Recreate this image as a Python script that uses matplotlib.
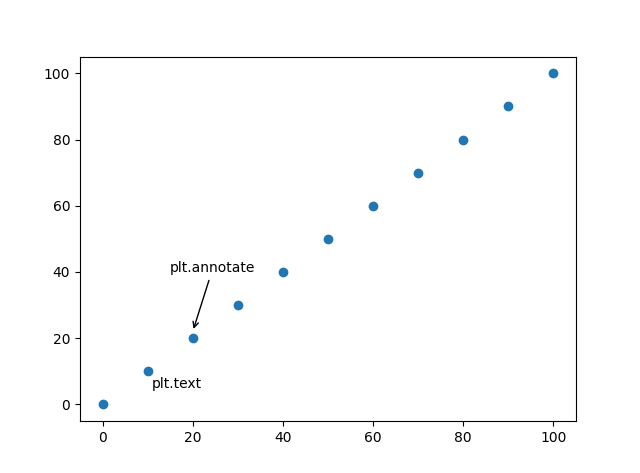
import matplotlib
matplotlib.use("Agg")
from matplotlib import pyplot as plt

x = [0, 10, 20, 30, 40, 50, 60, 70, 80, 90, 100]
y = [0, 10, 20, 30, 40, 50, 60, 70, 80, 90, 100]

plt.figure(figsize=(6.4, 4.73), dpi=100)
plt.scatter(x, y)
plt.text(11, 5, "plt.text")
plt.annotate("plt.annotate", xy=(20, 22), xytext=(15, 40),
             arrowprops=dict(arrowstyle="->"))
plt.savefig("out.png")
